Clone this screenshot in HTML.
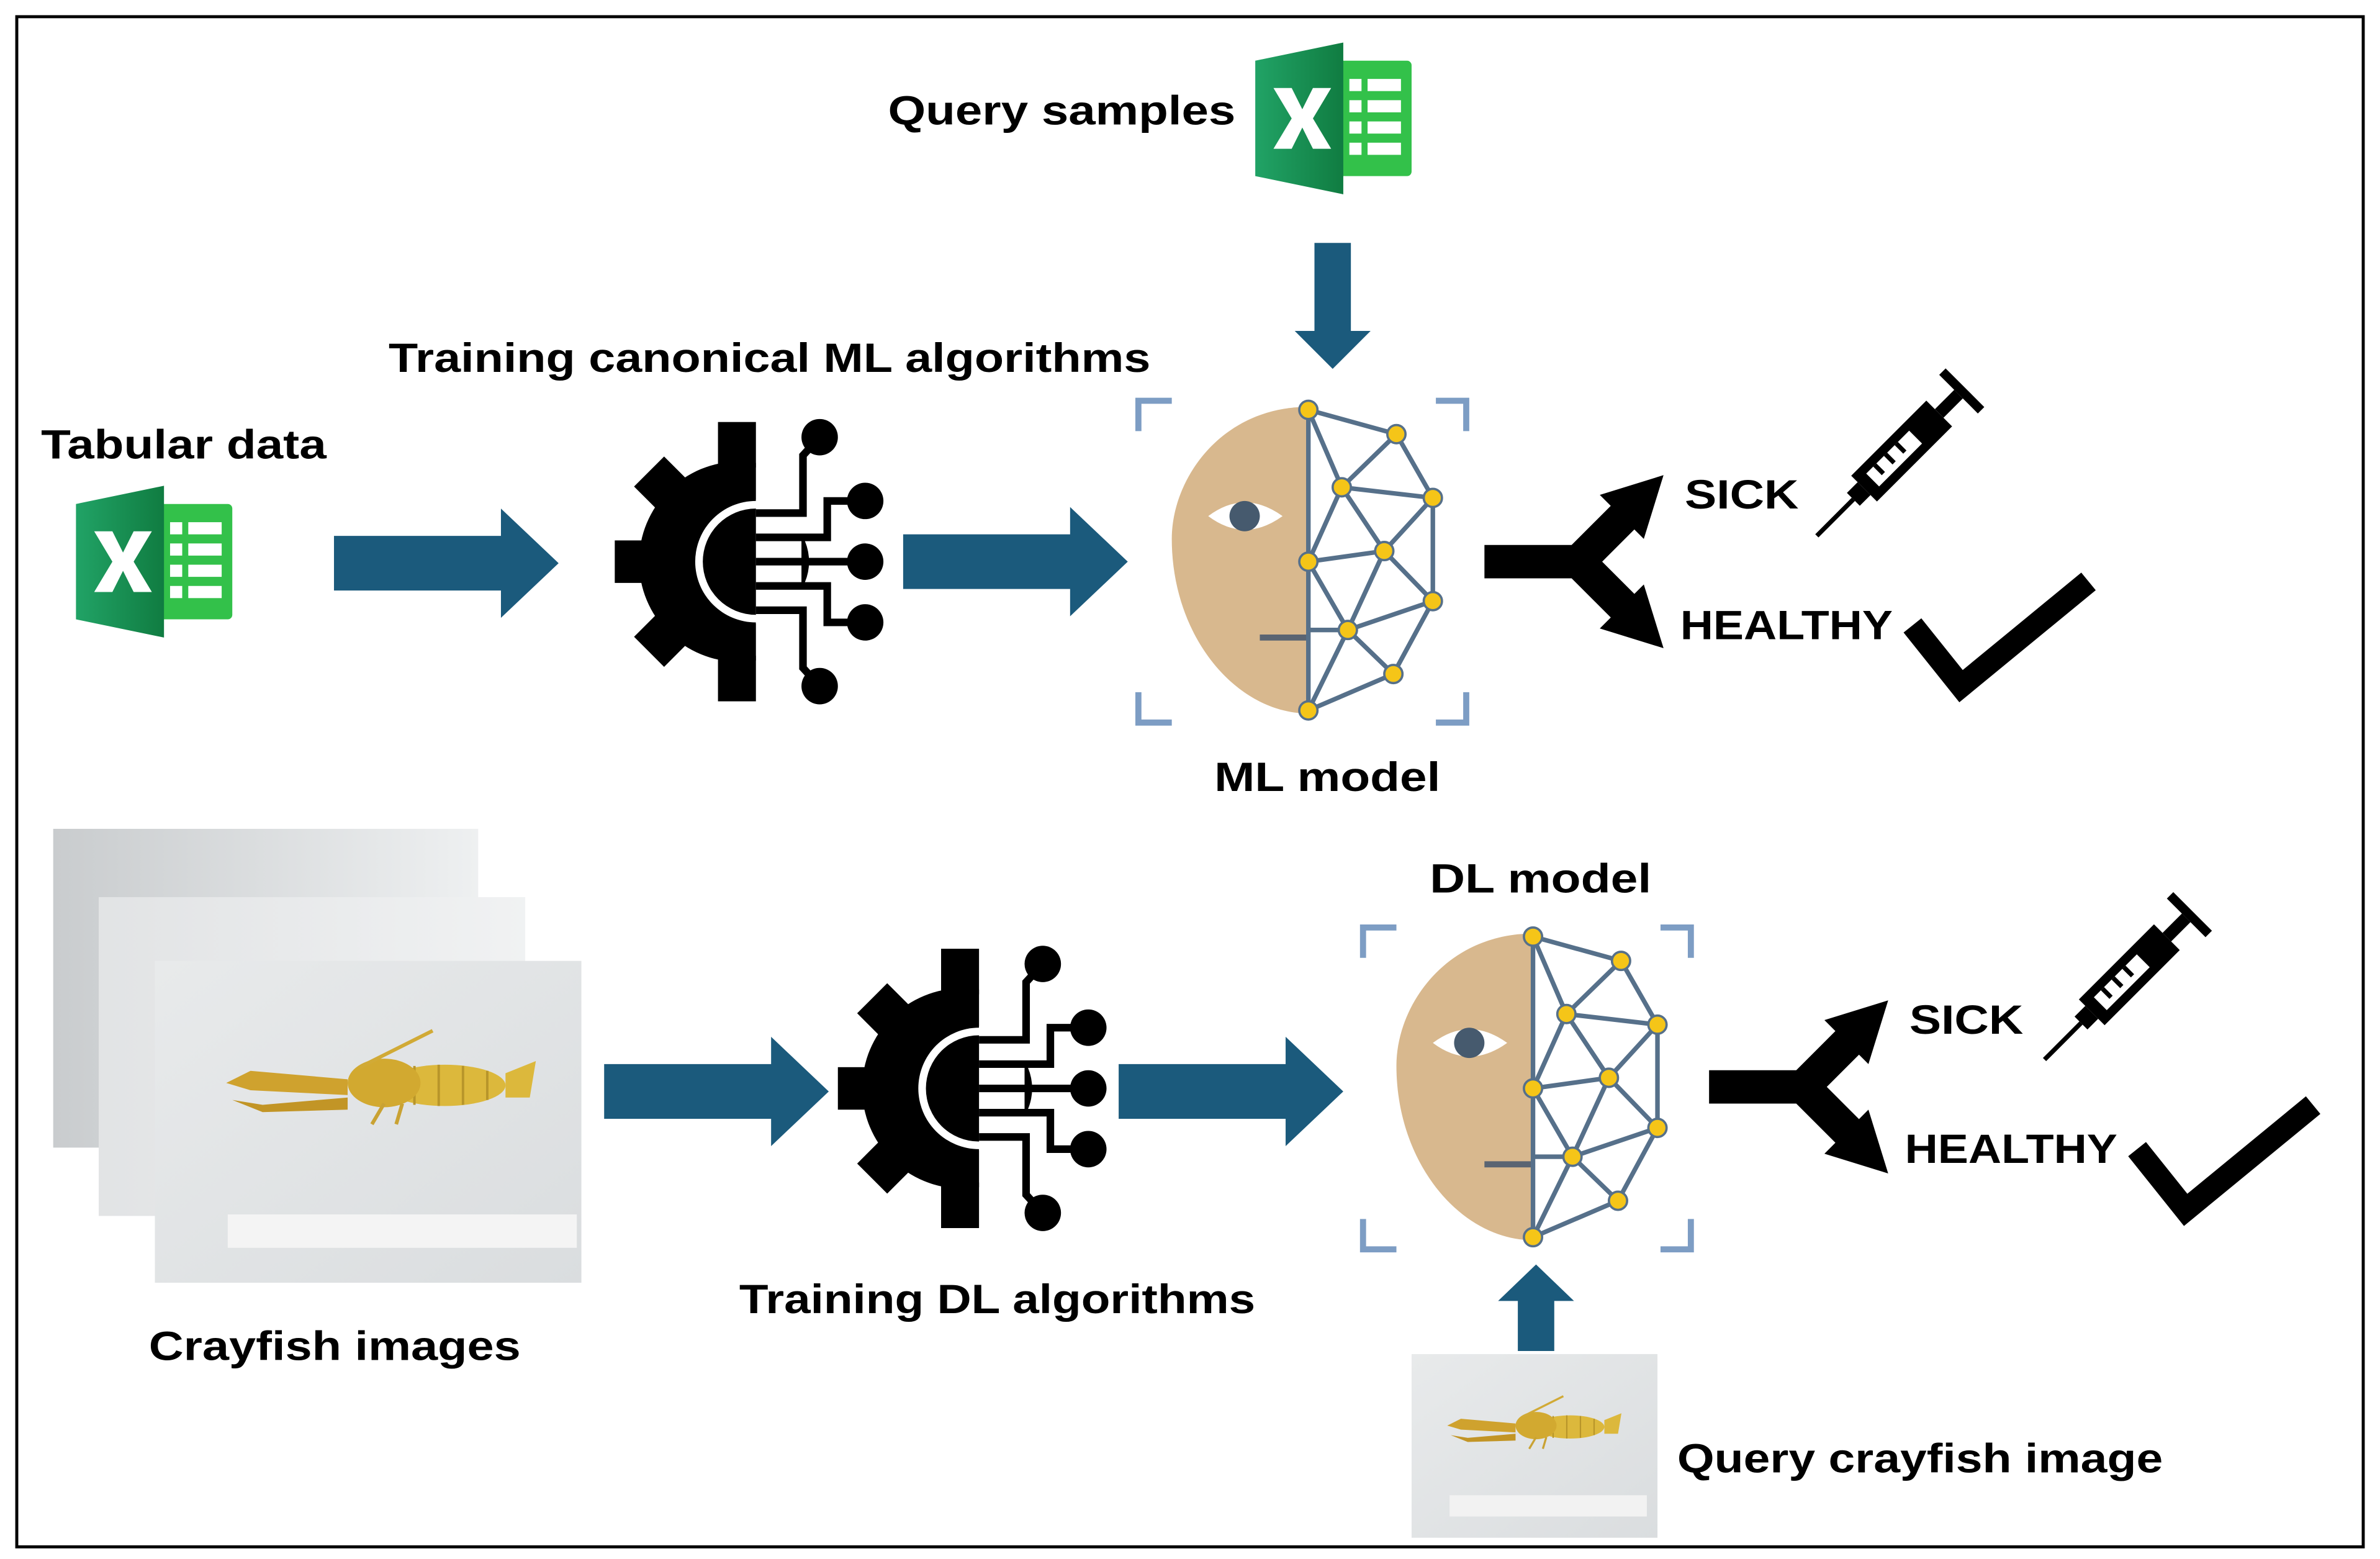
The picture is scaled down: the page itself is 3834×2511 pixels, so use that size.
<!DOCTYPE html>
<html><head><meta charset="utf-8">
<style>
html,body{margin:0;padding:0;background:#fff;}
svg{display:block;}
text{font-family:"Liberation Sans",Arial,sans-serif;font-weight:bold;fill:#000;}
</style></head>
<body>
<svg width="3834" height="2511" viewBox="0 0 1568 1027" xmlns="http://www.w3.org/2000/svg">
<defs>
  <linearGradient id="xg" x1="0" x2="1" y1="0" y2="0">
    <stop offset="0" stop-color="#21a366"/><stop offset="1" stop-color="#107c41"/>
  </linearGradient>
  <g id="excel">
    <rect x="50" y="12" width="53" height="76" rx="3" fill="#33c14a"/>
    <g fill="#fff">
      <rect x="62" y="24" width="8" height="8"/><rect x="74" y="24" width="22" height="8"/>
      <rect x="62" y="38" width="8" height="8"/><rect x="74" y="38" width="22" height="8"/>
      <rect x="62" y="52" width="8" height="8"/><rect x="74" y="52" width="22" height="8"/>
      <rect x="62" y="66" width="8" height="8"/><rect x="74" y="66" width="22" height="8"/>
    </g>
    <polygon points="0,12 58,0 58,100 0,88" fill="url(#xg)"/>
    <path d="M12,30 L24,30 L31,44 L38,30 L50,30 L38,50 L50,70 L38,70 L31,56 L24,70 L12,70 L24,50 Z" fill="#fff"/>
  </g>
  <clipPath id="gclip"><rect x="-100" y="-100" width="111" height="200"/></clipPath>
  <g id="gear">
    <g clip-path="url(#gclip)" fill="#000">
      <circle cx="0" cy="0" r="66"/>
      <rect x="-14" y="-92" width="28" height="30"/>
      <rect x="-14" y="62" width="28" height="30"/>
      <rect x="-82" y="-14" width="20" height="28"/>
      <rect x="-14" y="-84" width="28" height="22" transform="rotate(-45)"/>
      <rect x="-14" y="-84" width="28" height="22" transform="rotate(-135)"/>
    </g>
    <circle cx="11" cy="0" r="40" fill="#fff"/>
    <circle cx="11" cy="0" r="35" fill="#000"/>
    <rect x="11" y="-41" width="30" height="82" fill="#fff"/>
    <g stroke="#000" stroke-width="5" fill="none">
      <polyline points="11,-32 42,-32 42,-70 53,-82"/>
      <polyline points="11,-16 58,-16 58,-40 83,-40"/>
      <polyline points="11,0 83,0"/>
      <polyline points="11,16 58,16 58,40 83,40"/>
      <polyline points="11,32 42,32 42,70 53,82"/>
    </g>
    <g fill="#000">
      <circle cx="53" cy="-82" r="12"/><circle cx="83" cy="-40" r="12"/>
      <circle cx="83" cy="0" r="12"/><circle cx="83" cy="40" r="12"/>
      <circle cx="53" cy="82" r="12"/>
    </g>
  </g>
  <g id="face">
    <g stroke="#7d9dc4" stroke-width="4" fill="none">
      <polyline points="750,284 750,264 772,264"/>
      <polyline points="946,264 966,264 966,284"/>
      <polyline points="750,456 750,476 772,476"/>
      <polyline points="946,476 966,476 966,456"/>
    </g>
    <path d="M862,268 C805,268 772,315 772,355 C772,420 815,470 862,470 Z" fill="#d8b88e"/>
    <path d="M796,340 Q820,322 845,340 Q820,358 796,340 Z" fill="#fff"/>
    <circle cx="820" cy="340" r="10" fill="#465a6e"/>
    <line x1="830" y1="420" x2="862" y2="420" stroke="#5a6472" stroke-width="4"/>
    <g stroke="#56708a" stroke-width="3" fill="none">
      <polyline points="862,270 862,468"/>
      <polyline points="862,270 920,286 944,328 944,396 918,444 862,468"/>
      <polyline points="862,270 884,321 920,286"/>
      <polyline points="884,321 944,328 912,363 884,321 862,370 912,363 944,396 888,415 912,363"/>
      <polyline points="862,370 888,415 918,444 888,415 862,468"/>
      <polyline points="888,415 862,415"/>
    </g>
    <g fill="#f5c518" stroke="#56708a" stroke-width="1.5">
      <circle cx="862" cy="270" r="6"/><circle cx="920" cy="286" r="6"/>
      <circle cx="884" cy="321" r="6"/><circle cx="944" cy="328" r="6"/>
      <circle cx="862" cy="370" r="6"/><circle cx="912" cy="363" r="6"/>
      <circle cx="944" cy="396" r="6"/><circle cx="888" cy="415" r="6"/>
      <circle cx="862" cy="468" r="6"/><circle cx="918" cy="444" r="6"/>
    </g>
  </g>
  <g id="fork">
    <g stroke="#000" stroke-width="22" fill="none">
      <line x1="978" y1="370" x2="1040" y2="370"/>
      <line x1="1036" y1="374" x2="1076" y2="334"/>
      <line x1="1036" y1="366" x2="1076" y2="406"/>
    </g>
    <polygon points="1096,313 1054,326 1083,355" fill="#000"/>
    <polygon points="1096,427 1054,414 1083,385" fill="#000"/>
  </g>
  <g id="syringe">
    <g transform="translate(1255,295) rotate(-45)">
      <rect x="-38" y="-12" width="70" height="24" fill="#000"/>
      <rect x="-30" y="-6" width="40" height="12" fill="#fff"/>
      <g stroke="#000" stroke-width="3"><line x1="-22" y1="-6" x2="-22" y2="2"/><line x1="-12" y1="-6" x2="-12" y2="2"/><line x1="-2" y1="-6" x2="-2" y2="2"/></g>
      <rect x="32" y="-4" width="18" height="8" fill="#000"/>
      <rect x="50" y="-18" width="6" height="36" fill="#000"/>
      <rect x="-48" y="-6" width="10" height="12" fill="#000"/>
      <line x1="-48" y1="0" x2="-82" y2="0" stroke="#000" stroke-width="3"/>
    </g>
  </g>
  <g id="arrowR">
    <polygon points="0,18 110,18 110,0 148,36 110,72 110,54 0,54" fill="#1b5a7c"/>
  </g>
  <linearGradient id="bg1" x1="0" x2="1"><stop offset="0" stop-color="#c9ccce"/><stop offset="1" stop-color="#eef0f1"/></linearGradient>
  <linearGradient id="bg3" x1="0" x2="1" y1="0" y2="1"><stop offset="0" stop-color="#e8eaeb"/><stop offset="1" stop-color="#dadddf"/></linearGradient>
  <g id="cray">
    <ellipse cx="110" cy="0" rx="50" ry="17" fill="#dcb83c"/>
    <g stroke="#b8952a" stroke-width="2"><line x1="85" y1="-16" x2="85" y2="16"/><line x1="105" y1="-17" x2="105" y2="17"/><line x1="125" y1="-16" x2="125" y2="16"/><line x1="145" y1="-12" x2="145" y2="12"/></g>
    <ellipse cx="60" cy="-2" rx="30" ry="20" fill="#d2a930"/>
    <path d="M30,-5 L-50,-12 L-70,-2 L-50,4 L30,8 Z" fill="#cfa22e"/>
    <path d="M30,10 L-40,16 L-65,12 L-40,22 L30,20 Z" fill="#c29526"/>
    <path d="M160,-10 L185,-20 L180,10 L160,10 Z" fill="#dcb83c"/>
    <line x1="40" y1="-15" x2="100" y2="-45" stroke="#d1aa36" stroke-width="3"/>
    <g stroke="#c9a233" stroke-width="3"><line x1="60" y1="15" x2="50" y2="32"/><line x1="75" y1="15" x2="70" y2="32"/></g>
  </g>
</defs>

<rect x="0" y="0" width="1568" height="1027" fill="#fff"/>
<rect x="11" y="11" width="1546" height="1008" fill="none" stroke="#000" stroke-width="2"/>

<!-- top row -->
<text x="585" y="82" font-size="27" textLength="229" lengthAdjust="spacingAndGlyphs">Query samples</text>
<use href="#excel" transform="translate(827,28)"/>
<polygon points="866,160 890,160 890,218 903,218 878,243 853,218 866,218" fill="#1b5a7c"/>
<text x="256" y="245" font-size="27" textLength="502" lengthAdjust="spacingAndGlyphs">Training canonical ML algorithms</text>
<text x="27" y="302" font-size="27" textLength="188" lengthAdjust="spacingAndGlyphs">Tabular data</text>
<use href="#excel" transform="translate(50,320)"/>
<use href="#arrowR" transform="translate(220,335)"/>
<use href="#gear" transform="translate(487,370)"/>
<use href="#arrowR" transform="translate(595,334)"/>
<use href="#face"/>
<text x="800" y="521" font-size="27" textLength="149" lengthAdjust="spacingAndGlyphs">ML model</text>
<use href="#fork"/>
<text x="1110" y="335" font-size="27" textLength="75" lengthAdjust="spacingAndGlyphs">SICK</text>
<text x="1107" y="421" font-size="27" textLength="140" lengthAdjust="spacingAndGlyphs">HEALTHY</text>
<use href="#syringe"/>
<polyline points="1260,412 1292,452 1376,383" fill="none" stroke="#000" stroke-width="15"/>

<!-- bottom row -->
<rect x="35" y="546" width="280" height="210" fill="url(#bg1)"/>
<rect x="65" y="591" width="281" height="210" fill="#f2f3f4"/>
<rect x="65" y="591" width="281" height="210" fill="url(#bg1)" opacity="0.4"/>
<rect x="102" y="633" width="281" height="212" fill="url(#bg3)"/>
<rect x="150" y="800" width="230" height="22" fill="#f4f4f4"/>
<g transform="translate(205,715) scale(0.8)"><use href="#cray"/></g>
<text x="98" y="896" font-size="27" textLength="245" lengthAdjust="spacingAndGlyphs">Crayfish images</text>
<use href="#arrowR" transform="translate(398,683)"/>
<use href="#gear" transform="translate(634,717)"/>
<use href="#arrowR" transform="translate(737,683)"/>
<text x="942" y="588" font-size="27" textLength="146" lengthAdjust="spacingAndGlyphs">DL model</text>
<use href="#face" transform="translate(148,347)"/>
<text x="487" y="865" font-size="27" textLength="340" lengthAdjust="spacingAndGlyphs">Training DL algorithms</text>
<polygon points="1000,890 1024,890 1024,857 1037,857 1012,833 987,857 1000,857" fill="#1b5a7c"/>
<rect x="930" y="892" width="162" height="121" fill="url(#bg3)"/>
<rect x="955" y="985" width="130" height="14" fill="#f2f2f2"/>
<g transform="translate(985,940) scale(0.45)"><use href="#cray"/></g>
<text x="1105" y="970" font-size="27" textLength="320" lengthAdjust="spacingAndGlyphs">Query crayfish image</text>
<use href="#fork" transform="translate(148,346)"/>
<text x="1258" y="681" font-size="27" textLength="75" lengthAdjust="spacingAndGlyphs">SICK</text>
<text x="1255" y="766" font-size="27" textLength="140" lengthAdjust="spacingAndGlyphs">HEALTHY</text>
<use href="#syringe" transform="translate(150,345)"/>
<polyline points="1408,757 1440,797 1524,728" fill="none" stroke="#000" stroke-width="15"/>
</svg>
</body></html>
